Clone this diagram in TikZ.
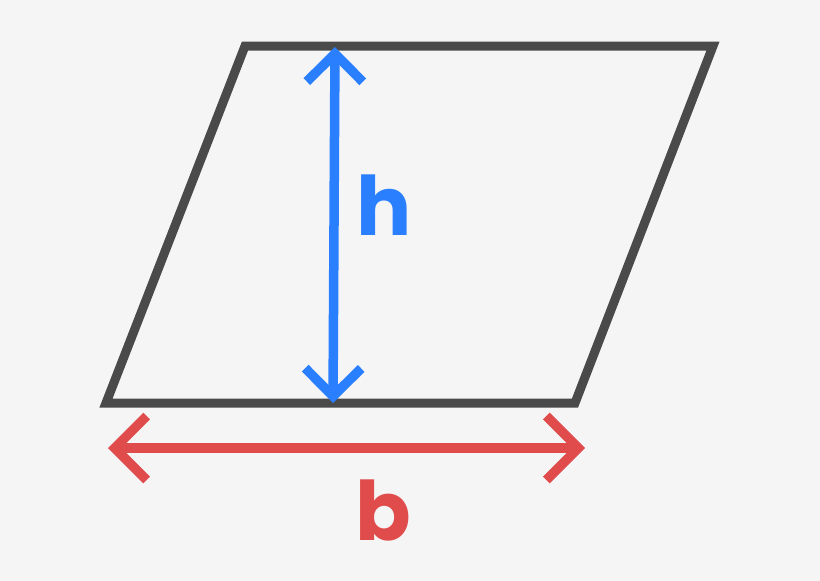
\documentclass[tikz,border=0pt]{standalone}
\usepackage{fontspec}
\newfontfamily\lblfont{Poppins}
\usetikzlibrary{arrows.meta}
\definecolor{bgray}{HTML}{F5F5F5}
\definecolor{edgegray}{HTML}{4A4A4A}
\definecolor{hblue}{HTML}{2A7FFF}
\definecolor{bred}{HTML}{E04B4B}
\begin{document}
\begin{tikzpicture}[x=1pt, y=-1pt,
    edge/.style={draw=edgegray, line width=9pt, line join=miter},
    dim/.style={line width=9.5pt, {Straight Barb[length=#1, sharp]}-{Straight Barb[length=#1, sharp]}},
    lbl/.style={inner sep=0pt, font=\lblfont\bfseries\fontsize{82}{82}\selectfont}]
  \fill[bgray] (0,0) rectangle (820,581);
  \useasboundingbox (0,0) rectangle (820,581);
  % corners
  \coordinate (BL) at (106,403);
  \coordinate (BR) at (575,403);
  \coordinate (TR) at (713,46);
  \coordinate (TL) at (245,46);
  \draw[edge] (BL) -- (BR) -- (TR) -- (TL) -- cycle;
  % height
  \coordinate (htop) at (335,47);
  \coordinate (hbot) at (333,403);
  \draw[dim=28pt, draw=hblue] (hbot) -- (htop);
  \node[lbl, text=hblue] (hlabel) at (384,205) {h};
  % base
  \coordinate (bleft) at (108,448);
  \coordinate (bright) at (585,448);
  \draw[dim=32pt, draw=bred] (bleft) -- (bright);
  \node[lbl, text=bred] (blabel) at (383,510) {b};
\end{tikzpicture}
\end{document}
